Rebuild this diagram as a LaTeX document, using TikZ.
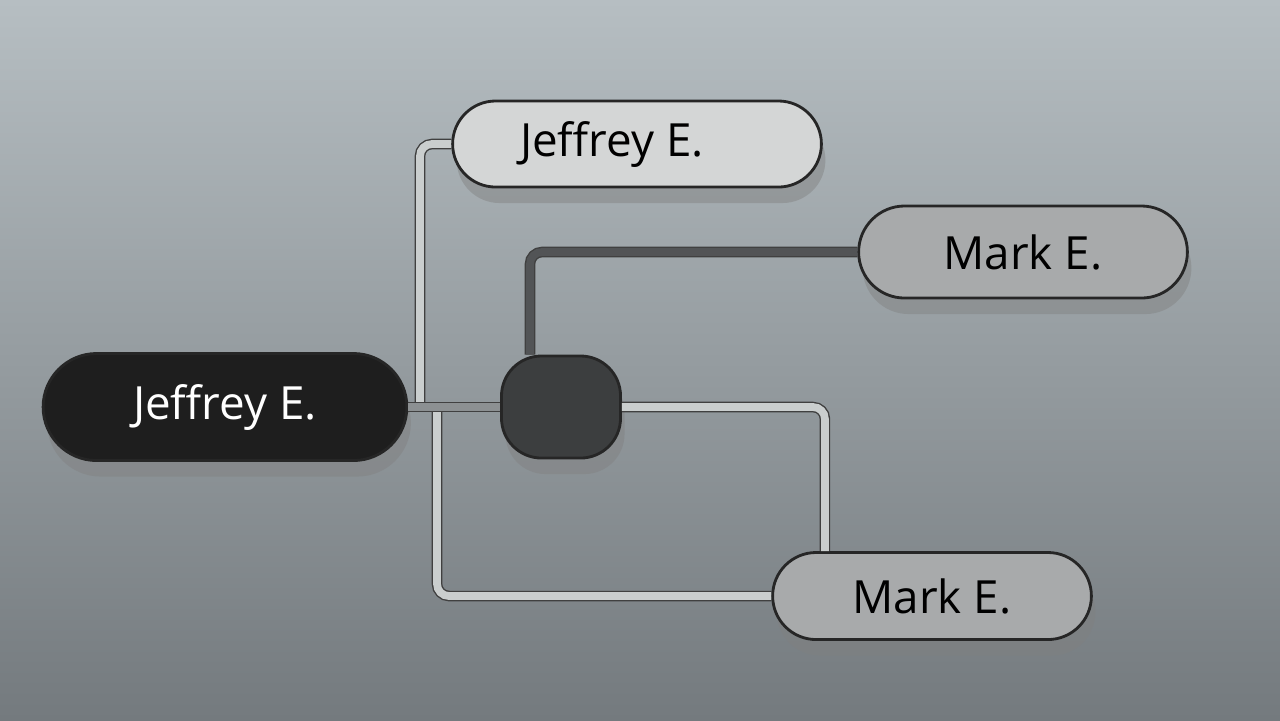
\documentclass[tikz,border=0pt]{standalone}
\usepackage{fontspec}
\setmainfont{Open Sans}
\usetikzlibrary{shapes.misc,shadows}

\definecolor{bgtop}{RGB}{182,190,194}
\definecolor{bgbot}{RGB}{116,122,126}
\definecolor{nodeblack}{RGB}{30,30,30}
\definecolor{nodelight}{RGB}{212,214,214}
\definecolor{nodegray}{RGB}{168,170,171}
\definecolor{hubgray}{RGB}{60,62,63}
\definecolor{wirelight}{RGB}{202,206,206}
\definecolor{wiremid}{RGB}{140,144,146}
\definecolor{wiredark}{RGB}{82,84,86}

\tikzset{
  person/.style={rounded rectangle, draw=black!85, line width=0.8pt,
    font=\fontsize{13}{15}\selectfont,
    drop shadow={shadow xshift=0.4mm, shadow yshift=-1.6mm, opacity=0.45}},
  hubbox/.style={rectangle, rounded corners=0.4cm, draw=black!85, line width=0.8pt,
    fill=hubgray, minimum width=1.19cm, minimum height=1.02cm,
    drop shadow={shadow xshift=0.4mm, shadow yshift=-1.6mm, opacity=0.45}},
  wire/.style={line width=0.4pt, draw=black!75, double distance=2.2pt, rounded corners=0.12cm},
  lightwire/.style={wire, double=wirelight},
  midwire/.style={wire, double=wiremid},
  darkwire/.style={wire, double=wiredark}
}

\begin{document}
\begin{tikzpicture}[x=0.01cm,y=-0.01cm]
  \shade[top color=bgtop, bottom color=bgbot] (0,0) rectangle (1280,720);
  \useasboundingbox (0,0) rectangle (1280,720);

  \node[person, fill=nodeblack, text=white, minimum width=3.87cm, minimum height=1.07cm] (jeffa) at (225,407) {Jeffrey E.};
  \node[person, fill=nodelight, minimum width=3.92cm, minimum height=0.86cm] (jeffb) at (637,144) {\hspace*{-0.5cm}Jeffrey E.};
  \node[person, fill=nodegray, minimum width=3.52cm, minimum height=0.92cm] (marka) at (1023,252) {Mark E.};
  \node[person, fill=nodegray, minimum width=3.42cm, minimum height=0.87cm] (markb) at (932,596) {Mark E.};
  \node[hubbox] (hub) at (561,407) {};

  \coordinate (ja) at (420,405);
  \coordinate (jb) at (437,405);

  \draw[lightwire] (ja) |- (jeffb.west);
  \draw[lightwire] (jb) |- (markb.west);
  \draw[darkwire] ([xshift=-0.31cm]hub.north) |- (marka.west);
  \draw[lightwire] (hub.east) -| ([xshift=-1.07cm]markb.north);
  \draw[midwire] (jeffa.east) -- (hub.west);

\end{tikzpicture}
\end{document}
